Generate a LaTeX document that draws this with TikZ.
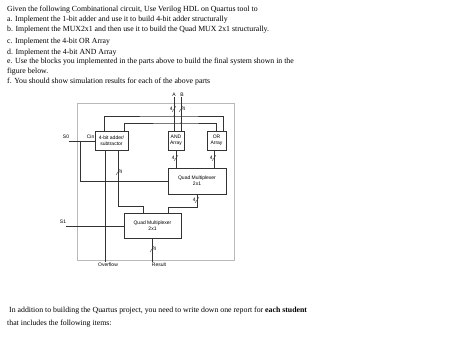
\documentclass[tikz,border=0pt]{standalone}
\usepackage{fontspec}
\setmainfont{Liberation Serif}
\setsansfont{Liberation Sans}
\usepackage{xcolor}
\usepackage{tikz}
\usetikzlibrary{positioning, calc}

\tikzset{
  txt/.style={anchor=base west, inner sep=0pt, font=\fontsize{7.8}{8}\selectfont},
  blk/.style={draw=black!80, line width=0.4pt, align=center, inner sep=0pt,
    font=\sffamily\fontsize{5}{6}\selectfont},
  wire/.style={draw=black!80, line width=0.4pt},
  lbl/.style={inner sep=0.5pt, font=\sffamily\fontsize{5}{6}\selectfont},
  dot/.style={circle, fill=black!80, inner sep=0pt, minimum size=1.4pt}
}

\begin{document}
\begin{tikzpicture}[x=1pt, y=-1pt]
\useasboundingbox (0,0) rectangle (474,342);
% task text
\node[txt] (t1) at (7,12) {Given the following Combinational circuit, Use Verilog HDL on Quartus tool to};
\node[txt] (t2) at (7,21.5) {a. Implement the 1-bit adder and use it to build 4-bit adder structurally};
\node[txt] (t3) at (7,32) {b. Implement the MUX2x1 and then use it to build the Quad MUX 2x1 structurally.};
\node[txt] (t4) at (7,44) {c. Implement the 4-bit OR Array};
\node[txt] (t5) at (7,54.5) {d. Implement the 4-bit AND Array};
\node[txt] (t6) at (7,64) {e. Use the blocks you implemented in the parts above to build the final system shown in the};
\node[txt] (t7) at (7,73.5) {figure below.};
\node[txt] (t8) at (7,83.5) {f. You should show simulation results for each of the above parts};
\node[txt] (t9) at (9,312) {In addition to building the Quartus project, you need to write down one report for \textbf{each student}};
\node[txt] (t10) at (7,325) {that includes the following items:};

% system frame
\draw[gray!55, line width=0.5pt] (77,103) rectangle (234,260);

% blocks
\node[blk, minimum width=33pt, minimum height=19pt] (adder) at (111.5,140.5) {4-bit adder/\\subtractor};
\node[blk, minimum width=16pt, minimum height=19pt] (andarr) at (176,140.5) {AND\\Array};
\node[blk, minimum width=19pt, minimum height=19pt] (orarr) at (216.5,140.5) {OR\\Array};
\node[blk, minimum width=58pt, minimum height=26pt] (mux1) at (197,181) {Quad Multiplexer\\2x1};
\node[blk, minimum width=57pt, minimum height=25pt] (mux2) at (152.5,225.5) {Quad Multiplexer\\2x1};

% inputs and outputs
\node[lbl] (inA) at (174,95) {A};
\node[lbl] (inB) at (182,95) {B};
\node[lbl] (s0) at (66,137) {S0};
\node[lbl] (s1) at (63,222) {S1};
\node[lbl, anchor=east] (cin) at (95,137) {Cin};
\node[lbl, anchor=north] (ovf) at (108,262) {Overflow};
\node[lbl, anchor=north] (res) at (159,262) {Result};
\coordinate (s0w) at (69,141);
\coordinate (s1w) at (66,226);
\coordinate (s0j) at (80,141);
\coordinate (jA) at (174,116);
\coordinate (jB) at (181,123);

% A and B buses
\draw[wire] (inA.south) -- (andarr.north -| inA.south);
\draw[wire] (inB.south -| jB) -- (andarr.north -| jB);
\draw[wire] (adder.north -| 104,0) |- (jA) -| (orarr.north -| 223,0);
\draw[wire] (adder.north -| 124,0) |- (jB) -| (orarr.north -| 216,0);
\node[dot] (dA) at (jA) {};
\node[dot] (dB) at (jB) {};

% block outputs
\draw[wire] (andarr.south) -- (mux1.north -| andarr.south);
\draw[wire] (orarr.south -| 214,0) -- (mux1.north -| 214,0);
\draw[wire] (adder.south -| 118,0) |- (143,206) -- (mux2.north -| 143,0);
\draw[wire] (mux1.south) |- (168,207) -- (mux2.north -| 168,0);
\draw[wire] (adder.south -| 105,0) -- (105,262);
\draw[wire] (mux2.south) -- (res.north -| mux2.south);

% selects
\draw[wire] (s0w) -- (adder.west |- s0w);
\draw[wire] (s0j) |- (mux1.west |- 0,181);
\draw[wire] (s1w) -- (mux2.west |- s1w);

% bus width marks
\foreach \px/\py/\side in {174/109/left, 181/109/right, 176/158/left, 214/158/left,
    118/172/right, 197/200/left, 152/249/right} {
  \draw[wire] (\px-2,\py+3) -- (\px+2,\py-3) node[lbl, \side=0.6pt, pos=0.5] {4};
}
\end{tikzpicture}
\end{document}
